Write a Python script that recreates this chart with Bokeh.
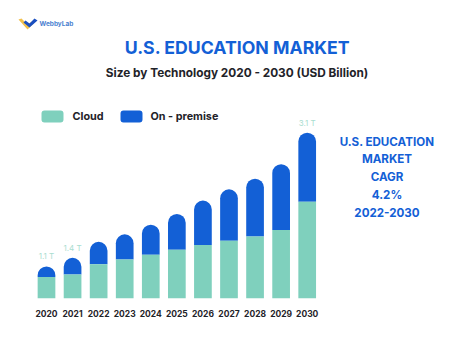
from bokeh.plotting import figure
from bokeh.embed import file_html
from bokeh.resources import INLINE
from bokeh.core.properties import value
from bokeh.models import Label, BoxAnnotation, PolyAnnotation, FixedTicker, ColumnDataSource

years = [2020, 2021, 2022, 2023, 2024, 2025, 2026, 2027, 2028, 2029, 2030]
cloud = [0.40, 0.45, 0.64, 0.73, 0.82, 0.91, 1.00, 1.08, 1.16, 1.28, 1.81]
on_premise = [0.20, 0.31, 0.42, 0.47, 0.56, 0.67, 0.83, 0.96, 1.08, 1.23, 1.29]
value_labels = {2020: "1.1 T", 2021: "1.4 T", 2030: "3.1 T"}

TEAL = "#7fd0bd"
BLUE = "#1360d6"
INK = "#1f2329"
FONT = "Inter"

W, H = 474, 355
BASE = 298          # frame bottom, px from the top of the page
STEP = 26.07        # px per year
PX_PER_UNIT = 53.5
def sy(py): return BASE - py  # screen y is measured up from the frame's bottom

total = [c + o for c, o in zip(cloud, on_premise)]
src = ColumnDataSource(dict(year=years, cloud=cloud, total=total, zero=[0]*len(years)))

x0 = 2020 - 46 / STEP
p = figure(width=W, height=H, output_backend="svg", toolbar_location=None,
           x_range=(x0, x0 + W / STEP), y_range=(0, BASE / PX_PER_UNIT),
           min_border_left=0, min_border_right=0, min_border_top=0, min_border_bottom=H - BASE,
           outline_line_color=None, background_fill_color="white", border_fill_color="white")
p.grid.visible = False
p.yaxis.visible = False
ax = p.xaxis[0]
ax.ticker = FixedTicker(ticks=years)
ax.axis_line_color = None
ax.major_tick_line_color = None
ax.minor_tick_line_color = None
ax.major_label_text_font = FONT
ax.major_label_text_font_size = "8.5px"
ax.major_label_text_font_style = "bold"
ax.major_label_text_color = INK
ax.major_label_standoff = 5

BW = 17.7 / STEP
p.vbar(x="year", bottom="cloud", top="total", width=BW, source=src,
       fill_color=BLUE, line_color=None, border_radius=(9, 9, 0, 0))
p.vbar(x="year", bottom="zero", top="cloud", width=BW, source=src,
       fill_color=TEAL, line_color=None)

lab_years = list(value_labels)
p.text(x=lab_years, y=[total[years.index(y)] for y in lab_years], text=[value_labels[y] for y in lab_years],
       y_offset=-5, text_align="center", text_baseline="bottom",
       text_font=value(FONT), text_font_size="8px", text_color="#a9ddd0")

def txt(x, y, s, size, color, style="bold", align="center"):
    p.add_layout(Label(x=x, y=sy(y), x_units="screen", y_units="screen", text=s, text_align=align,
                       text_baseline="middle", text_font=FONT, text_font_size=size,
                       text_font_style=style, text_color=color))

txt(237, 47, "U.S. EDUCATION MARKET", "17.7px", BLUE)
txt(236.5, 72, "Size by Technology 2020 - 2030 (USD Billion)", "11.8px", INK)
txt(72, 116, "Cloud", "10.8px", INK, align="left")
txt(150, 116, "On - premise", "10.8px", INK, align="left")
for yy, s in zip([141, 158, 176, 194, 212], ["U.S. EDUCATION", "MARKET", "CAGR", "4.2%", "2022-2030"]):
    txt(386.5, yy, s, "11.6px", BLUE)
txt(39, 23.5, "WebbyLab", "6.5px", "#4a7fd0", align="left")

for l, r, c in [(41, 63, TEAL), (120, 142, BLUE)]:
    p.add_layout(BoxAnnotation(left=l, right=r, top=sy(110), bottom=sy(122),
                               left_units="screen", right_units="screen", top_units="screen", bottom_units="screen",
                               fill_color=c, fill_alpha=1, line_color=None, border_radius=3))

def poly(pts, c):
    p.add_layout(PolyAnnotation(xs=[a for a, b in pts], ys=[sy(b) for a, b in pts],
                                xs_units="screen", ys_units="screen", fill_color=c, fill_alpha=1, line_color=None))
poly([(18,19),(21,18),(27,24),(33,20),(33,23),(27,29)], "#f2c14e")
poly([(23,22),(25,20),(29,23),(34,18),(37,20),(29,27)], "#1a4fc0")

open("out.html", "w").write(file_html(p, INLINE))
